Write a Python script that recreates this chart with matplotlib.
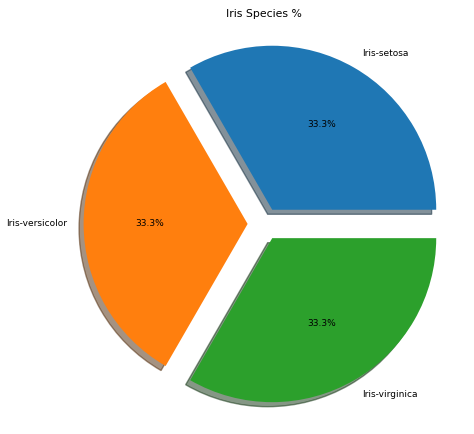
import matplotlib.pyplot as plt

species = ["Iris-setosa", "Iris-versicolor", "Iris-virginica"]
counts = [50, 50, 50]
explode = [0.1, 0.1, 0.1]

plt.rcParams['font.size'] = 6.5

fig = plt.figure(figsize=(4.74, 4.34), dpi=100)
ax = fig.add_axes([0.1245, 0.0115, 0.865, 0.945])
ax.pie(counts, labels=species, explode=explode, autopct='%1.1f%%',
       shadow=True, textprops={'fontsize': 6.5})
ax.set_title("Iris Species %", fontsize=7.8, pad=0)
fig.savefig("out.png", dpi=100)
